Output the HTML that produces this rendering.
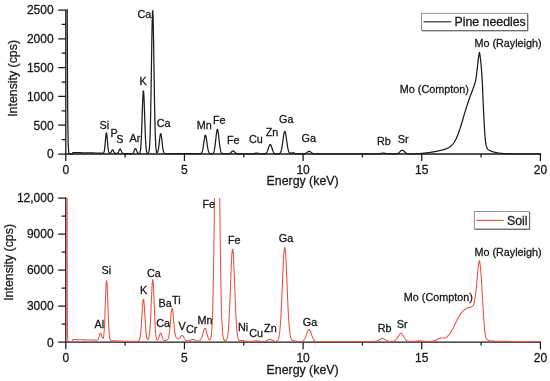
<!DOCTYPE html>
<html><head><meta charset="utf-8"><title>XRF spectra</title>
<style>
html,body{margin:0;padding:0;background:#fff;}
body{width:550px;height:381px;overflow:hidden;}
svg{display:block;}
text{font-family:"Liberation Sans",Arial,sans-serif;fill:#1a1a1a;stroke:#1a1a1a;stroke-width:0.3px;}
.tk{font-size:12px;}
.ti{font-size:12.35px;}
.lb{font-size:10.8px;}
.lg{font-size:12.3px;}
</style></head><body>
<svg width="550" height="381" viewBox="0 0 550 381">
<rect width="550" height="381" fill="#fff"/>
<!-- top chart -->
<path d="M65.8 9.4 V154.0 H541.1" fill="none" stroke="#1a1a1a" stroke-width="1.3"/>
<path d="M65.80 154.0 v7 M184.45 154.0 v7 M303.10 154.0 v7 M421.75 154.0 v7 M540.40 154.0 v7 M125.12 154.0 v3.4 M243.77 154.0 v3.4 M362.43 154.0 v3.4 M481.08 154.0 v3.4 M65.8 154.00 h-7.6 M65.8 125.20 h-7.6 M65.8 96.40 h-7.6 M65.8 67.60 h-7.6 M65.8 38.80 h-7.6 M65.8 10.00 h-7.6 M65.8 139.60 h-4.2 M65.8 110.80 h-4.2 M65.8 82.00 h-4.2 M65.8 53.20 h-4.2 M65.8 24.40 h-4.2" fill="none" stroke="#1a1a1a" stroke-width="1.25"/>
<text x="53.6" y="158.30" text-anchor="end" class="tk">0</text>
<text x="53.6" y="129.50" text-anchor="end" class="tk">500</text>
<text x="53.6" y="100.70" text-anchor="end" class="tk">1000</text>
<text x="53.6" y="71.90" text-anchor="end" class="tk">1500</text>
<text x="53.6" y="43.10" text-anchor="end" class="tk">2000</text>
<text x="53.6" y="14.30" text-anchor="end" class="tk">2500</text>
<text x="65.80" y="174.00" text-anchor="middle" class="tk">0</text>
<text x="184.45" y="174.00" text-anchor="middle" class="tk">5</text>
<text x="303.10" y="174.00" text-anchor="middle" class="tk">10</text>
<text x="421.75" y="174.00" text-anchor="middle" class="tk">15</text>
<text x="540.40" y="174.00" text-anchor="middle" class="tk">20</text>
<text x="302.6" y="185.30" text-anchor="middle" class="ti">Energy (keV)</text>
<text transform="translate(16.7 78.4) rotate(-90)" text-anchor="middle" class="ti">Intensity (cps)</text>
<path d="M67.20 9.00 L67.50 84.00 L67.80 124.00 L68.20 144.00 L68.60 151.00 L68.95 153.40 L69.00 153.80 L71.25 153.80 L72.25 153.80 L72.50 153.70 L72.75 152.99 L73.00 152.50 L75.25 152.54 L76.50 152.58 L77.75 152.63 L79.00 152.67 L80.50 152.71 L82.50 152.76 L84.75 152.80 L87.00 152.84 L89.25 152.89 L91.50 152.93 L93.75 152.97 L96.00 153.01 L98.00 153.05 L100.00 153.10 L101.50 153.14 L103.00 153.12 L103.25 153.03 L103.50 152.87 L103.75 152.54 L104.00 151.98 L104.25 151.07 L104.50 149.70 L104.75 147.80 L105.00 145.36 L105.25 142.50 L105.50 139.46 L105.75 136.60 L106.00 134.33 L106.25 133.03 L106.50 132.91 L106.75 134.01 L107.00 136.12 L107.25 138.91 L107.50 141.96 L107.75 144.90 L108.00 147.46 L108.25 149.49 L108.50 150.97 L108.75 151.98 L109.00 152.61 L109.25 152.97 L109.50 153.15 L109.75 153.22 L110.00 153.19 L110.25 153.09 L110.50 152.91 L110.75 152.64 L111.00 152.28 L111.25 151.84 L111.50 151.34 L111.75 150.83 L112.00 150.37 L112.25 150.03 L112.50 149.85 L112.75 149.88 L113.00 150.10 L113.25 150.47 L113.50 150.95 L113.75 151.47 L114.00 151.97 L114.25 152.41 L114.50 152.76 L114.75 153.02 L115.00 153.21 L115.25 153.32 L115.50 153.40 L115.75 153.44 L117.00 153.41 L117.25 153.34 L117.50 153.23 L117.75 153.04 L118.00 152.77 L118.25 152.40 L118.50 151.92 L118.75 151.36 L119.00 150.74 L119.25 150.11 L119.50 149.57 L119.75 149.16 L120.00 148.95 L120.25 148.98 L120.50 149.23 L120.75 149.68 L121.00 150.25 L121.25 150.89 L121.50 151.51 L121.75 152.06 L122.00 152.52 L122.25 152.88 L122.50 153.13 L122.75 153.31 L123.00 153.42 L123.25 153.49 L123.75 153.55 L126.00 153.58 L128.25 153.59 L130.50 153.60 L131.75 153.56 L132.00 153.52 L132.25 153.46 L132.50 153.35 L132.75 153.19 L133.00 152.96 L133.25 152.64 L133.50 152.22 L133.75 151.71 L134.00 151.12 L134.25 150.48 L134.50 149.86 L134.75 149.31 L135.00 148.89 L135.25 148.65 L135.50 148.63 L135.75 148.82 L136.00 149.21 L136.25 149.74 L136.50 150.36 L136.75 151.00 L137.00 151.60 L137.25 152.13 L137.50 152.57 L137.75 152.91 L138.00 153.16 L138.25 153.33 L138.50 153.43 L138.75 153.47 L139.00 153.46 L139.25 153.38 L139.50 153.19 L139.75 152.84 L140.00 152.24 L140.25 151.25 L140.50 149.71 L140.75 147.44 L141.00 144.25 L141.25 139.98 L141.50 134.56 L141.75 128.07 L142.00 120.75 L142.25 113.05 L142.50 105.56 L142.75 99.00 L143.00 94.06 L143.25 91.29 L143.50 91.03 L143.75 93.31 L144.00 97.86 L144.25 104.16 L144.50 111.51 L144.75 119.23 L145.00 126.66 L145.25 133.35 L145.50 138.99 L145.75 143.49 L146.00 146.89 L146.25 149.33 L146.50 151.00 L146.75 152.08 L147.00 152.75 L147.25 153.14 L147.50 153.35 L147.75 153.43 L148.00 153.40 L148.25 153.26 L148.50 152.96 L148.75 152.41 L149.00 151.44 L149.25 149.86 L149.50 147.37 L149.75 143.61 L150.00 138.20 L150.25 130.76 L150.50 121.00 L150.75 108.83 L151.00 94.42 L151.25 78.31 L151.50 61.41 L151.75 44.95 L152.00 30.35 L152.25 19.03 L152.50 12.17 L152.75 10.54 L153.00 14.32 L153.25 23.08 L153.50 35.87 L153.75 51.39 L154.00 68.20 L154.25 84.91 L154.50 100.43 L154.75 113.99 L155.00 125.20 L155.25 134.00 L155.50 140.58 L155.75 145.27 L156.00 148.46 L156.25 150.52 L156.50 151.77 L156.75 152.46 L157.00 152.74 L157.25 152.72 L157.50 152.45 L157.75 151.93 L158.00 151.14 L158.25 150.06 L158.50 148.65 L158.75 146.92 L159.00 144.91 L159.25 142.70 L159.50 140.41 L159.75 138.20 L160.00 136.26 L160.25 134.77 L160.50 133.87 L160.75 133.65 L161.00 134.15 L161.25 135.30 L161.50 137.00 L161.75 139.07 L162.00 141.33 L162.25 143.61 L162.50 145.75 L162.75 147.66 L163.00 149.26 L163.25 150.55 L163.50 151.54 L163.75 152.26 L164.00 152.77 L164.25 153.11 L164.50 153.33 L164.75 153.46 L165.00 153.54 L165.25 153.59 L166.00 153.64 L168.25 153.65 L170.50 153.65 L172.75 153.65 L175.00 153.66 L177.25 153.66 L179.50 153.66 L181.75 153.67 L184.00 153.67 L186.25 153.68 L188.50 153.68 L190.75 153.68 L193.00 153.69 L195.25 153.69 L197.50 153.70 L199.75 153.68 L200.25 153.64 L200.50 153.59 L200.75 153.52 L201.00 153.41 L201.25 153.24 L201.50 152.99 L201.75 152.64 L202.00 152.15 L202.25 151.49 L202.50 150.65 L202.75 149.59 L203.00 148.30 L203.25 146.81 L203.50 145.14 L203.75 143.34 L204.00 141.50 L204.25 139.70 L204.50 138.08 L204.75 136.72 L205.00 135.74 L205.25 135.20 L205.50 135.15 L205.75 135.59 L206.00 136.49 L206.25 137.78 L206.50 139.37 L206.75 141.13 L207.00 142.98 L207.25 144.79 L207.50 146.50 L207.75 148.03 L208.00 149.36 L208.25 150.46 L208.50 151.35 L208.75 152.04 L209.00 152.56 L209.25 152.94 L209.50 153.21 L209.75 153.40 L210.00 153.52 L210.25 153.60 L210.50 153.65 L211.00 153.69 L212.00 153.65 L212.25 153.60 L212.50 153.53 L212.75 153.41 L213.00 153.23 L213.25 152.96 L213.50 152.58 L213.75 152.05 L214.00 151.34 L214.25 150.41 L214.50 149.23 L214.75 147.78 L215.00 146.06 L215.25 144.09 L215.50 141.92 L215.75 139.61 L216.00 137.28 L216.25 135.03 L216.50 133.00 L216.75 131.32 L217.00 130.10 L217.25 129.44 L217.50 129.38 L217.75 129.93 L218.00 131.04 L218.25 132.63 L218.50 134.60 L218.75 136.82 L219.00 139.15 L219.25 141.47 L219.50 143.68 L219.75 145.70 L220.00 147.47 L220.25 148.97 L220.50 150.20 L220.75 151.18 L221.00 151.94 L221.25 152.50 L221.50 152.91 L221.75 153.20 L222.00 153.39 L222.25 153.53 L222.50 153.61 L222.75 153.66 L223.25 153.72 L225.50 153.75 L227.75 153.74 L228.75 153.67 L229.00 153.63 L229.25 153.58 L229.50 153.50 L229.75 153.41 L230.00 153.29 L230.25 153.14 L230.50 152.96 L230.75 152.75 L231.00 152.52 L231.25 152.28 L231.50 152.02 L231.75 151.76 L232.00 151.52 L232.25 151.31 L232.50 151.14 L232.75 151.02 L233.00 150.97 L233.25 150.97 L233.50 151.04 L233.75 151.17 L234.00 151.35 L234.25 151.57 L234.50 151.82 L234.75 152.08 L235.00 152.33 L235.25 152.58 L235.50 152.81 L235.75 153.01 L236.00 153.18 L236.25 153.32 L236.50 153.44 L236.75 153.53 L237.00 153.60 L237.25 153.66 L237.75 153.72 L238.75 153.77 L241.00 153.78 L243.25 153.78 L245.50 153.79 L247.75 153.79 L250.00 153.79 L252.25 153.76 L253.00 153.70 L253.50 153.63 L253.75 153.58 L254.00 153.53 L254.25 153.48 L254.50 153.42 L254.75 153.36 L255.00 153.30 L255.25 153.24 L255.50 153.19 L255.75 153.15 L256.25 153.11 L257.25 153.19 L257.50 153.24 L257.75 153.29 L258.00 153.35 L258.25 153.41 L258.50 153.47 L258.75 153.53 L259.00 153.58 L259.25 153.63 L259.50 153.67 L260.00 153.73 L260.75 153.78 L263.00 153.81 L264.50 153.76 L264.75 153.73 L265.00 153.69 L265.25 153.62 L265.50 153.53 L265.75 153.41 L266.00 153.24 L266.25 153.02 L266.50 152.74 L266.75 152.39 L267.00 151.96 L267.25 151.46 L267.50 150.87 L267.75 150.20 L268.00 149.48 L268.25 148.71 L268.50 147.92 L268.75 147.14 L269.00 146.41 L269.25 145.76 L269.50 145.22 L269.75 144.82 L270.00 144.59 L270.25 144.53 L270.50 144.66 L270.75 144.96 L271.00 145.42 L271.25 146.01 L271.50 146.70 L271.75 147.46 L272.00 148.24 L272.25 149.03 L272.50 149.78 L272.75 150.49 L273.00 151.12 L273.25 151.68 L273.50 152.15 L273.75 152.55 L274.00 152.87 L274.25 153.13 L274.50 153.33 L274.75 153.47 L275.00 153.59 L275.25 153.67 L275.50 153.72 L276.00 153.79 L277.25 153.83 L278.50 153.78 L278.75 153.74 L279.00 153.69 L279.25 153.61 L279.50 153.49 L279.75 153.33 L280.00 153.10 L280.25 152.80 L280.50 152.40 L280.75 151.87 L281.00 151.21 L281.25 150.38 L281.50 149.38 L281.75 148.20 L282.00 146.84 L282.25 145.30 L282.50 143.62 L282.75 141.83 L283.00 139.99 L283.25 138.15 L283.50 136.41 L283.75 134.82 L284.00 133.47 L284.25 132.43 L284.50 131.74 L284.75 131.45 L285.00 131.58 L285.25 132.11 L285.50 133.01 L285.75 134.25 L286.00 135.75 L286.25 137.44 L286.50 139.25 L286.75 141.09 L287.00 142.91 L287.25 144.63 L287.50 146.23 L287.75 147.66 L288.00 148.90 L288.25 149.96 L288.50 150.83 L288.75 151.54 L289.00 152.08 L289.25 152.49 L289.50 152.79 L289.75 152.99 L290.00 153.12 L290.25 153.18 L291.00 153.15 L291.25 153.09 L291.50 153.03 L291.75 152.98 L292.00 152.93 L292.25 152.88 L293.50 152.92 L293.75 152.97 L294.00 153.04 L294.25 153.11 L294.50 153.19 L294.75 153.27 L295.00 153.35 L295.25 153.43 L295.50 153.50 L295.75 153.56 L296.00 153.62 L296.25 153.67 L296.50 153.71 L297.00 153.77 L297.75 153.82 L300.00 153.85 L302.25 153.85 L303.75 153.80 L304.25 153.75 L304.50 153.71 L304.75 153.66 L305.00 153.59 L305.25 153.51 L305.50 153.42 L305.75 153.30 L306.00 153.17 L306.25 153.02 L306.50 152.85 L306.75 152.67 L307.00 152.47 L307.25 152.28 L307.50 152.08 L307.75 151.90 L308.00 151.73 L308.25 151.58 L308.50 151.47 L308.75 151.39 L309.25 151.36 L309.50 151.40 L309.75 151.49 L310.00 151.61 L310.25 151.76 L310.50 151.93 L310.75 152.12 L311.00 152.32 L311.25 152.51 L311.50 152.70 L311.75 152.88 L312.00 153.05 L312.25 153.20 L312.50 153.33 L312.75 153.44 L313.00 153.53 L313.25 153.61 L313.50 153.67 L313.75 153.72 L314.25 153.78 L315.00 153.83 L317.25 153.85 L319.50 153.85 L321.75 153.85 L324.00 153.85 L326.25 153.85 L328.50 153.85 L330.75 153.85 L333.00 153.85 L335.25 153.85 L337.50 153.85 L339.75 153.85 L342.00 153.85 L344.25 153.85 L346.50 153.85 L348.75 153.85 L351.00 153.85 L353.25 153.85 L355.50 153.85 L357.75 153.85 L360.00 153.85 L362.25 153.85 L364.50 153.85 L366.75 153.85 L369.00 153.85 L371.25 153.85 L373.50 153.85 L375.75 153.85 L378.00 153.81 L378.75 153.76 L379.25 153.71 L379.75 153.64 L380.00 153.60 L380.25 153.56 L380.50 153.51 L380.75 153.46 L381.00 153.41 L381.25 153.36 L381.50 153.32 L381.75 153.27 L382.25 153.20 L382.75 153.16 L384.00 153.21 L384.25 153.24 L384.50 153.28 L384.75 153.33 L385.00 153.37 L385.25 153.42 L385.50 153.47 L385.75 153.52 L386.00 153.57 L386.25 153.61 L386.75 153.68 L387.25 153.74 L387.75 153.78 L388.75 153.83 L391.00 153.85 L393.25 153.85 L395.50 153.81 L396.25 153.75 L396.50 153.72 L396.75 153.67 L397.00 153.62 L397.25 153.55 L397.50 153.47 L397.75 153.37 L398.00 153.25 L398.25 153.11 L398.50 152.96 L398.75 152.78 L399.00 152.58 L399.25 152.36 L399.50 152.13 L399.75 151.90 L400.00 151.65 L400.25 151.40 L400.50 151.17 L400.75 150.94 L401.00 150.74 L401.25 150.57 L401.50 150.43 L401.75 150.32 L402.00 150.26 L402.50 150.28 L402.75 150.36 L403.00 150.48 L403.25 150.63 L403.50 150.82 L403.75 151.03 L404.00 151.26 L404.25 151.50 L404.50 151.75 L404.75 151.99 L405.00 152.23 L405.25 152.45 L405.50 152.66 L405.75 152.85 L406.00 153.02 L406.25 153.17 L406.50 153.30 L406.75 153.41 L407.00 153.50 L407.25 153.58 L407.50 153.64 L407.75 153.69 L408.25 153.76 L408.75 153.80 L410.25 153.85 L412.50 153.85 L414.25 153.87 L414.50 153.92 L414.75 153.98 L415.00 153.85 L416.00 153.80 L416.75 153.76 L417.50 153.71 L418.25 153.66 L419.00 153.61 L419.75 153.55 L420.25 153.50 L420.75 153.46 L421.25 153.41 L421.75 153.37 L422.25 153.32 L422.75 153.26 L423.25 153.21 L423.75 153.16 L424.25 153.10 L424.75 153.05 L425.25 152.99 L425.75 152.93 L426.25 152.87 L426.75 152.81 L427.25 152.75 L427.75 152.69 L428.25 152.62 L428.75 152.56 L429.25 152.50 L429.75 152.43 L430.25 152.37 L430.75 152.30 L431.25 152.23 L431.75 152.15 L432.00 152.11 L432.25 152.07 L432.50 152.03 L432.75 151.99 L433.00 151.94 L433.25 151.90 L433.50 151.86 L433.75 151.81 L434.00 151.77 L434.25 151.72 L434.50 151.67 L434.75 151.63 L435.00 151.58 L435.25 151.53 L435.50 151.48 L435.75 151.43 L436.00 151.38 L436.25 151.33 L436.50 151.28 L436.75 151.23 L437.00 151.18 L437.25 151.12 L437.50 151.07 L437.75 151.02 L438.00 150.96 L438.25 150.91 L438.50 150.85 L438.75 150.80 L439.00 150.74 L439.25 150.69 L439.50 150.63 L439.75 150.58 L440.00 150.52 L440.25 150.47 L440.50 150.41 L440.75 150.36 L441.00 150.30 L441.25 150.24 L441.50 150.19 L441.75 150.13 L442.00 150.07 L442.25 150.01 L442.50 149.95 L442.75 149.89 L443.00 149.82 L443.25 149.76 L443.50 149.69 L443.75 149.62 L444.00 149.55 L444.25 149.47 L444.50 149.40 L444.75 149.32 L445.00 149.24 L445.25 149.16 L445.50 149.07 L445.75 148.98 L446.00 148.89 L446.25 148.80 L446.50 148.70 L446.75 148.60 L447.00 148.49 L447.25 148.37 L447.50 148.25 L447.75 148.13 L448.00 147.99 L448.25 147.85 L448.50 147.71 L448.75 147.55 L449.00 147.39 L449.25 147.23 L449.50 147.06 L449.75 146.88 L450.00 146.70 L450.25 146.51 L450.50 146.31 L450.75 146.11 L451.00 145.90 L451.25 145.68 L451.50 145.46 L451.75 145.23 L452.00 145.00 L452.25 144.75 L452.50 144.48 L452.75 144.19 L453.00 143.87 L453.25 143.54 L453.50 143.19 L453.75 142.82 L454.00 142.43 L454.25 142.04 L454.50 141.62 L454.75 141.20 L455.00 140.77 L455.25 140.32 L455.50 139.87 L455.75 139.41 L456.00 138.92 L456.25 138.40 L456.50 137.85 L456.75 137.28 L457.00 136.68 L457.25 136.07 L457.50 135.44 L457.75 134.80 L458.00 134.15 L458.25 133.49 L458.50 132.84 L458.75 132.17 L459.00 131.48 L459.25 130.78 L459.50 130.06 L459.75 129.33 L460.00 128.59 L460.25 127.84 L460.50 127.08 L460.75 126.31 L461.00 125.53 L461.25 124.74 L461.50 123.94 L461.75 123.11 L462.00 122.27 L462.25 121.41 L462.50 120.54 L462.75 119.67 L463.00 118.79 L463.25 117.92 L463.50 117.06 L463.75 116.20 L464.00 115.37 L464.25 114.53 L464.50 113.69 L464.75 112.85 L465.00 112.02 L465.25 111.19 L465.50 110.36 L465.75 109.54 L466.00 108.73 L466.25 107.93 L466.50 107.13 L466.75 106.34 L467.00 105.57 L467.25 104.79 L467.50 104.03 L467.75 103.27 L468.00 102.52 L468.25 101.78 L468.50 101.04 L468.75 100.32 L469.00 99.60 L469.25 98.89 L469.50 98.19 L469.75 97.51 L470.00 96.82 L470.25 96.15 L470.50 95.48 L470.75 94.81 L471.00 94.14 L471.25 93.47 L471.50 92.80 L471.75 92.13 L472.00 91.47 L472.25 90.82 L472.50 90.16 L472.75 89.50 L473.00 88.83 L473.25 88.14 L473.50 87.44 L473.75 86.74 L474.00 86.03 L474.25 85.29 L474.50 84.50 L474.75 83.66 L475.00 82.78 L475.25 81.84 L475.50 80.79 L475.75 79.60 L476.00 78.15 L476.25 76.43 L476.50 74.52 L476.75 72.51 L477.00 70.50 L477.25 68.40 L477.50 66.15 L477.75 63.86 L478.00 61.65 L478.25 59.61 L478.50 57.69 L478.75 55.89 L479.00 54.28 L479.25 52.62 L479.50 52.38 L479.75 53.76 L480.00 55.35 L480.25 57.18 L480.50 59.27 L480.75 61.56 L481.00 64.00 L481.25 66.75 L481.50 69.82 L481.75 73.20 L482.00 76.92 L482.25 81.14 L482.50 86.08 L482.75 92.69 L483.00 99.52 L483.25 105.03 L483.50 109.99 L483.75 114.69 L484.00 119.42 L484.25 124.31 L484.50 128.95 L484.75 132.80 L485.00 136.04 L485.25 139.03 L485.50 141.57 L485.75 143.47 L486.00 144.66 L486.25 145.66 L486.50 146.53 L486.75 147.27 L487.00 147.89 L487.25 148.39 L487.50 148.77 L487.75 149.07 L488.00 149.32 L488.25 149.54 L488.50 149.74 L488.75 149.91 L489.00 150.07 L489.25 150.21 L489.50 150.34 L489.75 150.47 L490.00 150.60 L490.25 150.73 L490.50 150.85 L490.75 150.97 L491.00 151.08 L491.25 151.19 L491.50 151.29 L491.75 151.39 L492.00 151.49 L492.25 151.57 L492.50 151.65 L492.75 151.73 L493.00 151.80 L493.25 151.87 L493.50 151.93 L493.75 152.00 L494.00 152.06 L494.25 152.12 L494.50 152.19 L494.75 152.25 L495.00 152.31 L495.25 152.37 L495.50 152.43 L495.75 152.49 L496.00 152.54 L496.25 152.60 L496.50 152.65 L496.75 152.71 L497.00 152.76 L497.25 152.81 L497.50 152.86 L497.75 152.91 L498.00 152.95 L498.25 153.00 L498.50 153.04 L498.75 153.08 L499.00 153.13 L499.50 153.20 L500.00 153.27 L500.50 153.33 L501.00 153.39 L501.50 153.44 L502.25 153.49 L503.00 153.53 L504.00 153.59 L505.00 153.64 L506.00 153.68 L507.00 153.72 L508.25 153.77 L509.50 153.81 L511.25 153.86 L513.50 153.89 L515.00 153.90 L515.25 153.98 L515.75 153.92 L518.00 153.90 L520.25 153.90 L522.50 153.90 L524.75 153.90 L527.00 153.90 L529.25 153.90 L531.50 153.90 L533.75 153.90 L536.00 153.90 L538.25 153.90 L540.50 153.90" fill="none" stroke="#1c1c1c" stroke-width="1.25" stroke-linejoin="round"/>
<text x="99.5" y="129.3" class="lb">Si</text>
<text x="110.5" y="137.2" class="lb">P</text>
<text x="116.3" y="142.6" class="lb">S</text>
<text x="129.6" y="142.3" class="lb">Ar</text>
<text x="139.5" y="85.2" class="lb">K</text>
<text x="137.5" y="18.2" class="lb">Ca</text>
<text x="156.7" y="126.8" class="lb">Ca</text>
<text x="196.8" y="128.6" class="lb">Mn</text>
<text x="213" y="123.9" class="lb">Fe</text>
<text x="227" y="144" class="lb">Fe</text>
<text x="248.9" y="143.2" class="lb">Cu</text>
<text x="265.7" y="135.7" class="lb">Zn</text>
<text x="279" y="123.2" class="lb">Ga</text>
<text x="301.6" y="142.2" class="lb">Ga</text>
<text x="377" y="145.2" class="lb">Rb</text>
<text x="397.8" y="142.6" class="lb">Sr</text>
<text x="399.8" y="93.3" class="lb">Mo (Compton)</text>
<text x="474.4" y="46.7" class="lb">Mo (Rayleigh)</text>
<rect x="421.5" y="13.3" width="106" height="17.2" fill="#fff" stroke="#777" stroke-width="0.8"/>
<path d="M422 30.9 H527.9 V13.8" fill="none" stroke="#444" stroke-width="0.7"/>
<path d="M423.5 21.8 H451.3" stroke="#222" stroke-width="1.1"/>
<text x="454.6" y="26.4" class="lg">Pine needles</text>
<!-- bottom chart -->
<path d="M65.8 197.4 V342.2 H541.1" fill="none" stroke="#1a1a1a" stroke-width="1.3"/>
<path d="M65.80 342.2 v7 M184.45 342.2 v7 M303.10 342.2 v7 M421.75 342.2 v7 M540.40 342.2 v7 M125.12 342.2 v3.4 M243.77 342.2 v3.4 M362.43 342.2 v3.4 M481.08 342.2 v3.4 M65.8 342.20 h-7.6 M65.8 306.15 h-7.6 M65.8 270.10 h-7.6 M65.8 234.05 h-7.6 M65.8 198.00 h-7.6 M65.8 324.18 h-4.2 M65.8 288.12 h-4.2 M65.8 252.07 h-4.2 M65.8 216.03 h-4.2" fill="none" stroke="#1a1a1a" stroke-width="1.25"/>
<text x="53.6" y="346.50" text-anchor="end" class="tk">0</text>
<text x="53.6" y="310.45" text-anchor="end" class="tk">3000</text>
<text x="53.6" y="274.40" text-anchor="end" class="tk">6000</text>
<text x="53.6" y="238.35" text-anchor="end" class="tk">9000</text>
<text x="53.6" y="202.30" text-anchor="end" class="tk">12,000</text>
<text x="65.80" y="362.20" text-anchor="middle" class="tk">0</text>
<text x="184.45" y="362.20" text-anchor="middle" class="tk">5</text>
<text x="303.10" y="362.20" text-anchor="middle" class="tk">10</text>
<text x="421.75" y="362.20" text-anchor="middle" class="tk">15</text>
<text x="540.40" y="362.20" text-anchor="middle" class="tk">20</text>
<text x="302.6" y="373.50" text-anchor="middle" class="ti">Energy (keV)</text>
<text transform="translate(12.9 262.4) rotate(-90)" text-anchor="middle" class="ti">Intensity (cps)</text>
<path d="M67.15 198.00 L67.30 312.20 L67.50 333.20 L67.80 339.70 L68.30 341.50 L69.00 341.70 L71.25 341.70 L72.25 341.67 L72.50 340.83 L72.75 339.76 L73.00 339.50 L74.75 339.54 L75.75 339.59 L76.50 339.63 L77.25 339.67 L78.00 339.72 L79.00 339.77 L80.25 339.81 L82.25 339.85 L84.50 339.88 L86.75 339.91 L89.00 339.94 L91.25 339.98 L92.75 340.02 L93.75 340.07 L94.75 340.12 L95.50 340.16 L96.75 340.16 L97.00 340.11 L97.25 340.02 L97.50 339.88 L97.75 339.65 L98.00 339.33 L98.25 338.90 L98.50 338.33 L98.75 337.65 L99.00 336.85 L99.25 336.00 L99.50 335.15 L99.75 334.38 L100.00 333.75 L100.25 333.35 L100.50 333.22 L100.75 333.37 L101.00 333.78 L101.25 334.42 L101.50 335.20 L101.75 336.05 L102.00 336.87 L102.25 337.60 L102.50 338.15 L102.75 338.46 L103.00 338.45 L103.25 338.04 L103.50 337.09 L103.75 335.48 L104.00 333.07 L104.25 329.70 L104.50 325.29 L104.75 319.85 L105.00 313.50 L105.25 306.53 L105.50 299.39 L105.75 292.64 L106.00 286.92 L106.25 282.81 L106.50 280.75 L106.75 280.99 L107.00 283.49 L107.25 287.98 L107.50 293.97 L107.75 300.86 L108.00 308.02 L108.25 314.91 L108.50 321.13 L108.75 326.40 L109.00 330.65 L109.25 333.90 L109.50 336.27 L109.75 337.91 L110.00 339.01 L110.25 339.71 L110.50 340.13 L110.75 340.38 L111.00 340.53 L111.25 340.61 L111.50 340.65 L112.00 340.69 L113.25 340.74 L114.50 340.79 L115.50 340.84 L116.50 340.88 L117.50 340.93 L118.50 340.97 L119.50 341.02 L120.50 341.06 L121.75 341.11 L123.00 341.15 L124.75 341.20 L127.00 341.23 L129.25 341.26 L131.50 341.28 L133.75 341.30 L136.00 341.30 L137.75 341.25 L138.00 341.22 L138.25 341.17 L138.50 341.08 L138.75 340.93 L139.00 340.71 L139.25 340.36 L139.50 339.84 L139.75 339.09 L140.00 338.04 L140.25 336.63 L140.50 334.78 L140.75 332.43 L141.00 329.57 L141.25 326.21 L141.50 322.41 L141.75 318.30 L142.00 314.06 L142.25 309.92 L142.50 306.14 L142.75 302.98 L143.00 300.68 L143.25 299.42 L143.50 299.30 L143.75 300.33 L144.00 302.43 L144.25 305.42 L144.50 309.09 L144.75 313.17 L145.00 317.40 L145.25 321.54 L145.50 325.40 L145.75 328.83 L146.00 331.77 L146.25 334.18 L146.50 336.08 L146.75 337.51 L147.00 338.52 L147.25 339.18 L147.50 339.55 L147.75 339.66 L148.00 339.55 L148.25 339.23 L148.50 338.69 L148.75 337.91 L149.00 336.86 L149.25 335.45 L149.50 333.63 L149.75 331.29 L150.00 328.36 L150.25 324.75 L150.50 320.44 L150.75 315.45 L151.00 309.88 L151.25 303.92 L151.50 297.86 L151.75 292.07 L152.00 286.96 L152.25 282.94 L152.50 280.37 L152.75 279.48 L153.00 280.39 L153.25 283.04 L153.50 287.22 L153.75 292.58 L154.00 298.71 L154.25 305.18 L154.50 311.57 L154.75 317.55 L155.00 322.88 L155.25 327.43 L155.50 331.13 L155.75 334.03 L156.00 336.21 L156.25 337.77 L156.50 338.84 L156.75 339.51 L157.00 339.88 L157.25 340.01 L157.50 339.95 L157.75 339.73 L158.00 339.37 L158.25 338.88 L158.50 338.28 L158.75 337.58 L159.00 336.81 L159.25 336.02 L159.50 335.24 L159.75 334.54 L160.00 333.96 L160.25 333.55 L160.50 333.35 L160.75 333.37 L161.00 333.61 L161.25 334.05 L161.50 334.65 L161.75 335.36 L162.00 336.14 L162.25 336.93 L162.50 337.68 L162.75 338.36 L163.00 338.95 L163.25 339.44 L163.50 339.82 L163.75 340.11 L164.00 340.32 L164.25 340.45 L164.50 340.52 L165.25 340.52 L165.50 340.46 L165.75 340.40 L166.00 340.33 L166.25 340.25 L166.50 340.16 L166.75 340.05 L167.00 339.94 L167.25 339.79 L167.50 339.59 L167.75 339.31 L168.00 338.92 L168.25 338.39 L168.50 337.65 L168.75 336.67 L169.00 335.40 L169.25 333.79 L169.50 331.84 L169.75 329.53 L170.00 326.91 L170.25 324.05 L170.50 321.04 L170.75 318.02 L171.00 315.16 L171.25 312.62 L171.50 310.56 L171.75 309.12 L172.00 308.40 L172.25 308.45 L172.50 309.27 L172.75 310.79 L173.00 312.89 L173.25 315.44 L173.50 318.26 L173.75 321.18 L174.00 324.06 L174.25 326.76 L174.50 329.18 L174.75 331.28 L175.00 333.02 L175.25 334.43 L175.50 335.51 L175.75 336.33 L176.00 336.94 L176.25 337.38 L176.50 337.71 L176.75 337.95 L177.00 338.15 L177.25 338.32 L177.50 338.47 L177.75 338.61 L178.00 338.71 L178.25 338.79 L178.75 338.81 L179.00 338.73 L179.25 338.59 L179.50 338.38 L179.75 338.10 L180.00 337.77 L180.25 337.40 L180.50 337.01 L180.75 336.61 L181.00 336.24 L181.25 335.91 L181.50 335.65 L181.75 335.47 L182.00 335.39 L182.25 335.40 L182.50 335.53 L182.75 335.75 L183.00 336.05 L183.25 336.43 L183.50 336.86 L183.75 337.32 L184.00 337.79 L184.25 338.26 L184.50 338.70 L184.75 339.11 L185.00 339.47 L185.25 339.79 L185.50 340.06 L185.75 340.28 L186.00 340.46 L186.25 340.60 L186.50 340.71 L186.75 340.79 L187.00 340.85 L187.50 340.91 L188.75 340.86 L189.00 340.82 L189.25 340.76 L189.50 340.70 L189.75 340.62 L190.00 340.52 L190.25 340.42 L190.50 340.30 L190.75 340.18 L191.00 340.05 L191.25 339.92 L191.50 339.79 L191.75 339.68 L192.00 339.58 L192.25 339.49 L192.50 339.44 L193.25 339.43 L193.50 339.48 L193.75 339.56 L194.00 339.66 L194.25 339.77 L194.50 339.89 L194.75 340.02 L195.00 340.15 L195.25 340.28 L195.50 340.40 L195.75 340.50 L196.00 340.60 L196.25 340.68 L196.50 340.75 L196.75 340.81 L197.00 340.85 L197.50 340.92 L199.00 340.87 L199.25 340.82 L199.50 340.74 L199.75 340.63 L200.00 340.49 L200.25 340.29 L200.50 340.04 L200.75 339.72 L201.00 339.33 L201.25 338.85 L201.50 338.28 L201.75 337.61 L202.00 336.85 L202.25 336.00 L202.50 335.08 L202.75 334.11 L203.00 333.11 L203.25 332.11 L203.50 331.16 L203.75 330.28 L204.00 329.52 L204.25 328.90 L204.50 328.47 L204.75 328.24 L205.00 328.22 L205.25 328.41 L205.50 328.80 L205.75 329.38 L206.00 330.11 L206.25 330.97 L206.50 331.91 L206.75 332.91 L207.00 333.91 L207.25 334.89 L207.50 335.82 L207.75 336.68 L208.00 337.45 L208.25 338.12 L208.50 338.69 L208.75 339.16 L209.00 339.52 L209.25 339.77 L209.50 339.91 L209.75 339.93 L210.00 339.81 L210.25 339.51 L210.50 339.00 L210.75 338.21 L211.00 337.06 L211.25 335.45 L211.50 333.25 L211.75 330.29 L212.00 326.40 L212.25 321.38 L212.50 315.02 L212.75 307.10 L213.00 297.42 L213.25 285.80 L213.50 272.10 L213.75 256.28 L214.00 238.36 L214.25 218.49 L214.49 198.00 M219.71 198.00 L219.75 201.36 L220.00 222.61 L220.25 242.11 L220.50 259.62 L220.75 275.01 L221.00 288.28 L221.25 299.51 L221.50 308.83 L221.75 316.42 L222.00 322.50 L222.25 327.28 L222.50 330.97 L222.75 333.78 L223.00 335.88 L223.25 337.42 L223.50 338.53 L223.75 339.32 L224.00 339.87 L224.25 340.24 L224.50 340.48 L224.75 340.62 L225.00 340.69 L225.25 340.70 L225.50 340.65 L225.75 340.55 L226.00 340.37 L226.25 340.11 L226.50 339.75 L226.75 339.24 L227.00 338.55 L227.25 337.64 L227.50 336.45 L227.75 334.94 L228.00 333.03 L228.25 330.68 L228.50 327.83 L228.75 324.42 L229.00 320.44 L229.25 315.87 L229.50 310.73 L229.75 305.05 L230.00 298.93 L230.25 292.46 L230.50 285.81 L230.75 279.14 L231.00 272.66 L231.25 266.59 L231.50 261.14 L231.75 256.52 L232.00 252.92 L232.25 250.47 L232.50 249.30 L232.75 249.44 L233.00 250.90 L233.25 253.60 L233.50 257.44 L233.75 262.26 L234.00 267.87 L234.25 274.06 L234.50 280.61 L234.75 287.31 L235.00 293.95 L235.25 300.38 L235.50 306.43 L235.75 312.02 L236.00 317.07 L236.25 321.53 L236.50 325.40 L236.75 328.69 L237.00 331.44 L237.25 333.69 L237.50 335.50 L237.75 336.93 L238.00 338.04 L238.25 338.87 L238.50 339.49 L238.75 339.93 L239.00 340.23 L239.25 340.43 L239.50 340.54 L239.75 340.60 L240.75 340.54 L241.25 340.46 L241.75 340.41 L242.75 340.45 L243.00 340.50 L243.25 340.55 L243.50 340.61 L243.75 340.67 L244.00 340.74 L244.25 340.81 L244.50 340.89 L244.75 340.96 L245.00 341.02 L245.25 341.08 L245.50 341.14 L245.75 341.19 L246.00 341.23 L246.50 341.30 L247.00 341.35 L247.75 341.40 L250.00 341.43 L251.75 341.38 L252.50 341.33 L253.00 341.27 L253.50 341.21 L254.00 341.13 L254.25 341.09 L254.50 341.05 L255.00 340.97 L255.50 340.91 L256.00 340.87 L257.50 340.91 L258.00 340.98 L258.25 341.02 L258.50 341.06 L258.75 341.10 L259.00 341.14 L259.25 341.18 L259.75 341.26 L260.25 341.32 L260.75 341.37 L261.50 341.42 L263.75 341.42 L264.50 341.35 L264.75 341.32 L265.00 341.28 L265.25 341.22 L265.50 341.16 L265.75 341.09 L266.00 341.01 L266.25 340.91 L266.50 340.80 L266.75 340.69 L267.00 340.56 L267.25 340.42 L267.50 340.28 L267.75 340.13 L268.00 339.98 L268.25 339.84 L268.50 339.71 L268.75 339.59 L269.00 339.48 L269.25 339.39 L269.50 339.33 L270.00 339.28 L270.50 339.33 L270.75 339.40 L271.00 339.48 L271.25 339.59 L271.50 339.71 L271.75 339.85 L272.00 339.99 L272.25 340.14 L272.50 340.28 L272.75 340.43 L273.00 340.57 L273.25 340.69 L273.50 340.81 L273.75 340.92 L274.00 341.02 L274.25 341.10 L274.50 341.17 L274.75 341.23 L275.00 341.27 L275.50 341.33 L276.25 341.30 L276.50 341.25 L276.75 341.17 L277.00 341.06 L277.25 340.89 L277.50 340.66 L277.75 340.35 L278.00 339.94 L278.25 339.40 L278.50 338.70 L278.75 337.81 L279.00 336.69 L279.25 335.29 L279.50 333.58 L279.75 331.52 L280.00 329.05 L280.25 326.15 L280.50 322.79 L280.75 318.96 L281.00 314.65 L281.25 309.88 L281.50 304.68 L281.75 299.12 L282.00 293.27 L282.25 287.23 L282.50 281.14 L282.75 275.13 L283.00 269.35 L283.25 263.95 L283.50 259.10 L283.75 254.95 L284.00 251.62 L284.25 249.22 L284.50 247.84 L284.75 247.51 L285.00 248.26 L285.25 250.06 L285.50 252.84 L285.75 256.51 L286.00 260.95 L286.25 266.03 L286.50 271.59 L286.75 277.48 L287.00 283.53 L287.25 289.60 L287.50 295.56 L287.75 301.29 L288.00 306.69 L288.25 311.70 L288.50 316.26 L288.75 320.34 L289.00 323.95 L289.25 327.08 L289.50 329.75 L289.75 332.01 L290.00 333.88 L290.25 335.40 L290.50 336.64 L290.75 337.61 L291.00 338.38 L291.25 338.97 L291.50 339.42 L291.75 339.76 L292.00 340.01 L292.25 340.20 L292.50 340.34 L292.75 340.45 L293.00 340.54 L293.25 340.61 L293.50 340.68 L293.75 340.74 L294.00 340.79 L294.25 340.85 L294.50 340.90 L294.75 340.96 L295.00 341.01 L295.25 341.07 L295.50 341.12 L295.75 341.17 L296.00 341.21 L296.25 341.25 L296.75 341.33 L297.25 341.38 L297.75 341.42 L298.75 341.47 L301.00 341.44 L301.50 341.39 L301.75 341.35 L302.00 341.30 L302.25 341.23 L302.50 341.15 L302.75 341.04 L303.00 340.91 L303.25 340.74 L303.50 340.54 L303.75 340.30 L304.00 340.01 L304.25 339.68 L304.50 339.29 L304.75 338.84 L305.00 338.34 L305.25 337.79 L305.50 337.18 L305.75 336.53 L306.00 335.84 L306.25 335.12 L306.50 334.38 L306.75 333.64 L307.00 332.91 L307.25 332.21 L307.50 331.55 L307.75 330.97 L308.00 330.46 L308.25 330.05 L308.50 329.75 L308.75 329.56 L309.00 329.50 L309.25 329.56 L309.50 329.75 L309.75 330.05 L310.00 330.46 L310.25 330.97 L310.50 331.55 L310.75 332.20 L311.00 332.90 L311.25 333.63 L311.50 334.38 L311.75 335.11 L312.00 335.84 L312.25 336.53 L312.50 337.18 L312.75 337.79 L313.00 338.34 L313.25 338.84 L313.50 339.28 L313.75 339.67 L314.00 340.01 L314.25 340.29 L314.50 340.54 L314.75 340.74 L315.00 340.90 L315.25 341.03 L315.50 341.14 L315.75 341.23 L316.00 341.29 L316.25 341.34 L316.75 341.41 L317.50 341.46 L319.75 341.49 L322.00 341.49 L324.25 341.49 L326.50 341.48 L328.75 341.48 L331.00 341.48 L333.25 341.48 L335.50 341.47 L337.75 341.47 L340.00 341.47 L342.25 341.46 L344.50 341.46 L346.75 341.46 L349.00 341.45 L351.25 341.45 L353.50 341.45 L355.75 341.45 L358.00 341.44 L360.25 341.44 L362.50 341.44 L364.75 341.43 L367.00 341.43 L369.25 341.43 L371.50 341.42 L373.75 341.40 L374.75 341.36 L375.25 341.32 L375.75 341.26 L376.00 341.22 L376.25 341.17 L376.50 341.12 L376.75 341.05 L377.00 340.98 L377.25 340.90 L377.50 340.80 L377.75 340.70 L378.00 340.58 L378.25 340.45 L378.50 340.32 L378.75 340.17 L379.00 340.02 L379.25 339.86 L379.50 339.69 L379.75 339.53 L380.00 339.36 L380.25 339.20 L380.50 339.05 L380.75 338.91 L381.00 338.78 L381.25 338.66 L381.50 338.57 L381.75 338.50 L382.00 338.44 L382.75 338.44 L383.00 338.48 L383.25 338.55 L383.50 338.64 L383.75 338.75 L384.00 338.88 L384.25 339.02 L384.50 339.17 L384.75 339.33 L385.00 339.49 L385.25 339.65 L385.50 339.82 L385.75 339.98 L386.00 340.13 L386.25 340.28 L386.50 340.42 L386.75 340.55 L387.00 340.67 L387.25 340.77 L387.50 340.87 L387.75 340.95 L388.00 341.03 L388.25 341.09 L388.50 341.15 L388.75 341.20 L389.25 341.27 L389.75 341.32 L390.75 341.36 L392.50 341.30 L393.00 341.24 L393.25 341.20 L393.50 341.14 L393.75 341.08 L394.00 341.00 L394.25 340.90 L394.50 340.79 L394.75 340.66 L395.00 340.50 L395.25 340.32 L395.50 340.12 L395.75 339.88 L396.00 339.63 L396.25 339.34 L396.50 339.02 L396.75 338.68 L397.00 338.32 L397.25 337.93 L397.50 337.52 L397.75 337.11 L398.00 336.68 L398.25 336.25 L398.50 335.83 L398.75 335.41 L399.00 335.02 L399.25 334.66 L399.50 334.33 L399.75 334.04 L400.00 333.80 L400.25 333.61 L400.50 333.48 L400.75 333.41 L401.00 333.41 L401.25 333.46 L401.50 333.58 L401.75 333.75 L402.00 333.98 L402.25 334.26 L402.50 334.59 L402.75 334.94 L403.00 335.33 L403.25 335.74 L403.50 336.16 L403.75 336.59 L404.00 337.02 L404.25 337.44 L404.50 337.85 L404.75 338.24 L405.00 338.61 L405.25 338.96 L405.50 339.28 L405.75 339.57 L406.00 339.83 L406.25 340.07 L406.50 340.28 L406.75 340.46 L407.00 340.62 L407.25 340.76 L407.50 340.88 L407.75 340.98 L408.00 341.06 L408.25 341.13 L408.50 341.19 L408.75 341.23 L409.25 341.30 L409.75 341.34 L411.00 341.38 L413.25 341.35 L414.00 341.31 L414.25 341.41 L414.50 341.67 L414.75 341.92 L415.00 341.32 L415.50 341.27 L416.00 341.20 L416.50 341.13 L417.00 341.06 L417.50 340.99 L418.00 340.92 L418.50 340.86 L419.00 340.82 L421.25 340.87 L421.75 340.92 L422.25 340.99 L422.75 341.06 L423.25 341.13 L423.75 341.19 L424.25 341.25 L424.75 341.30 L425.50 341.35 L426.50 341.40 L428.75 341.41 L430.75 341.36 L431.25 341.32 L431.75 341.25 L432.00 341.21 L432.25 341.16 L432.50 341.12 L432.75 341.07 L433.00 341.01 L433.25 340.95 L433.50 340.89 L433.75 340.83 L434.00 340.77 L434.25 340.70 L434.50 340.63 L434.75 340.56 L435.00 340.49 L435.25 340.42 L435.50 340.34 L435.75 340.27 L436.00 340.19 L436.25 340.12 L436.50 340.03 L436.75 339.92 L437.00 339.79 L437.25 339.65 L437.50 339.49 L437.75 339.33 L438.00 339.16 L438.25 338.99 L438.50 338.82 L438.75 338.67 L439.00 338.52 L439.25 338.39 L439.50 338.28 L439.75 338.19 L440.00 338.13 L440.50 338.08 L441.50 338.03 L443.25 337.99 L444.50 337.94 L445.25 337.86 L445.50 337.79 L445.75 337.69 L446.00 337.56 L446.25 337.41 L446.50 337.23 L446.75 337.03 L447.00 336.82 L447.25 336.59 L447.50 336.35 L447.75 336.10 L448.00 335.84 L448.25 335.58 L448.50 335.32 L448.75 335.06 L449.00 334.79 L449.25 334.51 L449.50 334.20 L449.75 333.86 L450.00 333.50 L450.25 333.13 L450.50 332.73 L450.75 332.33 L451.00 331.91 L451.25 331.49 L451.50 331.06 L451.75 330.63 L452.00 330.20 L452.25 329.76 L452.50 329.31 L452.75 328.84 L453.00 328.36 L453.25 327.87 L453.50 327.37 L453.75 326.86 L454.00 326.35 L454.25 325.84 L454.50 325.32 L454.75 324.81 L455.00 324.30 L455.25 323.80 L455.50 323.29 L455.75 322.77 L456.00 322.24 L456.25 321.71 L456.50 321.18 L456.75 320.64 L457.00 320.12 L457.25 319.60 L457.50 319.10 L457.75 318.61 L458.00 318.14 L458.25 317.69 L458.50 317.26 L458.75 316.83 L459.00 316.42 L459.25 316.01 L459.50 315.61 L459.75 315.22 L460.00 314.84 L460.25 314.47 L460.50 314.11 L460.75 313.76 L461.00 313.43 L461.25 313.11 L461.50 312.80 L461.75 312.50 L462.00 312.21 L462.25 311.93 L462.50 311.66 L462.75 311.39 L463.00 311.13 L463.25 310.89 L463.50 310.64 L463.75 310.41 L464.00 310.19 L464.25 309.98 L464.50 309.78 L464.75 309.58 L465.00 309.39 L465.25 309.20 L465.50 309.02 L465.75 308.84 L466.00 308.66 L466.25 308.49 L466.50 308.34 L466.75 308.19 L467.00 308.05 L467.25 307.92 L467.50 307.81 L467.75 307.72 L468.00 307.64 L468.25 307.57 L468.50 307.51 L468.75 307.46 L469.00 307.41 L469.25 307.37 L469.50 307.33 L469.75 307.29 L470.00 307.25 L470.25 307.20 L470.50 307.14 L470.75 307.08 L471.00 307.01 L471.25 306.92 L471.50 306.81 L471.75 306.67 L472.00 306.50 L472.25 306.29 L472.50 306.04 L472.75 305.76 L473.00 305.44 L473.25 305.08 L473.50 304.61 L473.75 303.93 L474.00 303.07 L474.25 302.06 L474.50 300.94 L474.75 299.75 L475.00 298.27 L475.25 296.51 L475.50 294.64 L475.75 292.58 L476.00 290.36 L476.25 288.02 L476.50 285.53 L476.75 282.90 L477.00 280.20 L477.25 277.33 L477.50 274.34 L477.75 271.50 L478.00 269.07 L478.25 266.86 L478.50 264.90 L478.75 263.30 L479.00 261.77 L479.25 260.72 L479.50 260.84 L479.75 262.02 L480.00 263.60 L480.25 265.61 L480.50 268.24 L480.75 271.07 L481.00 274.12 L481.25 277.45 L481.50 281.00 L481.75 284.80 L482.00 288.87 L482.25 293.13 L482.50 297.66 L482.75 302.47 L483.00 307.00 L483.25 311.13 L483.50 315.06 L483.75 318.76 L484.00 322.16 L484.25 325.48 L484.50 328.58 L484.75 331.17 L485.00 333.12 L485.25 334.86 L485.50 336.33 L485.75 337.40 L486.00 337.99 L486.25 338.44 L486.50 338.84 L486.75 339.20 L487.00 339.50 L487.25 339.76 L487.50 339.98 L487.75 340.15 L488.00 340.29 L488.25 340.39 L488.50 340.46 L488.75 340.52 L489.00 340.58 L489.25 340.64 L489.50 340.69 L489.75 340.74 L490.00 340.79 L490.25 340.83 L490.75 340.91 L491.25 340.97 L491.75 341.02 L492.50 341.08 L493.50 341.12 L494.75 341.16 L496.25 341.21 L498.00 341.25 L500.25 341.29 L502.50 341.33 L504.75 341.36 L507.00 341.38 L509.25 341.41 L511.50 341.43 L513.75 341.45 L516.00 341.47 L518.25 341.49 L520.00 341.50 L520.25 342.09 L520.50 341.85 L520.75 341.61 L521.00 341.50 L523.25 341.50 L525.50 341.50 L527.75 341.50 L530.00 341.51 L532.25 341.52 L534.50 341.53 L536.75 341.55 L539.00 341.57 L540.50 341.59" fill="none" stroke="#f04e38" stroke-width="1.05" stroke-linejoin="round"/>
<text x="94.5" y="328" class="lb">Al</text>
<text x="101.5" y="273.5" class="lb">Si</text>
<text x="140" y="294.2" class="lb">K</text>
<text x="147" y="276.6" class="lb">Ca</text>
<text x="156.2" y="327.2" class="lb">Ca</text>
<text x="158.5" y="306.5" class="lb">Ba</text>
<text x="172" y="304.2" class="lb">Ti</text>
<text x="178.5" y="329.7" class="lb">V</text>
<text x="186" y="332.5" class="lb">Cr</text>
<text x="197.5" y="324" class="lb">Mn</text>
<text x="202.5" y="208.3" class="lb">Fe</text>
<text x="228" y="244.1" class="lb">Fe</text>
<text x="237.9" y="331" class="lb">Ni</text>
<text x="249.3" y="336.5" class="lb">Cu</text>
<text x="264.1" y="331.6" class="lb">Zn</text>
<text x="278.8" y="242.1" class="lb">Ga</text>
<text x="302.8" y="325.7" class="lb">Ga</text>
<text x="377.8" y="331.5" class="lb">Rb</text>
<text x="396.7" y="328" class="lb">Sr</text>
<text x="403.8" y="301.2" class="lb">Mo (Compton)</text>
<text x="474.4" y="255.6" class="lb">Mo (Rayleigh)</text>
<rect x="474.3" y="211.6" width="55" height="17.4" fill="#fff" stroke="#777" stroke-width="0.8"/>
<path d="M474.8 229.4 H529.7 V212" fill="none" stroke="#444" stroke-width="0.7"/>
<path d="M476.2 220.4 H503.6" stroke="#f04e38" stroke-width="1.1"/>
<text x="507" y="225" class="lg">Soil</text>
</svg>
</body></html>
